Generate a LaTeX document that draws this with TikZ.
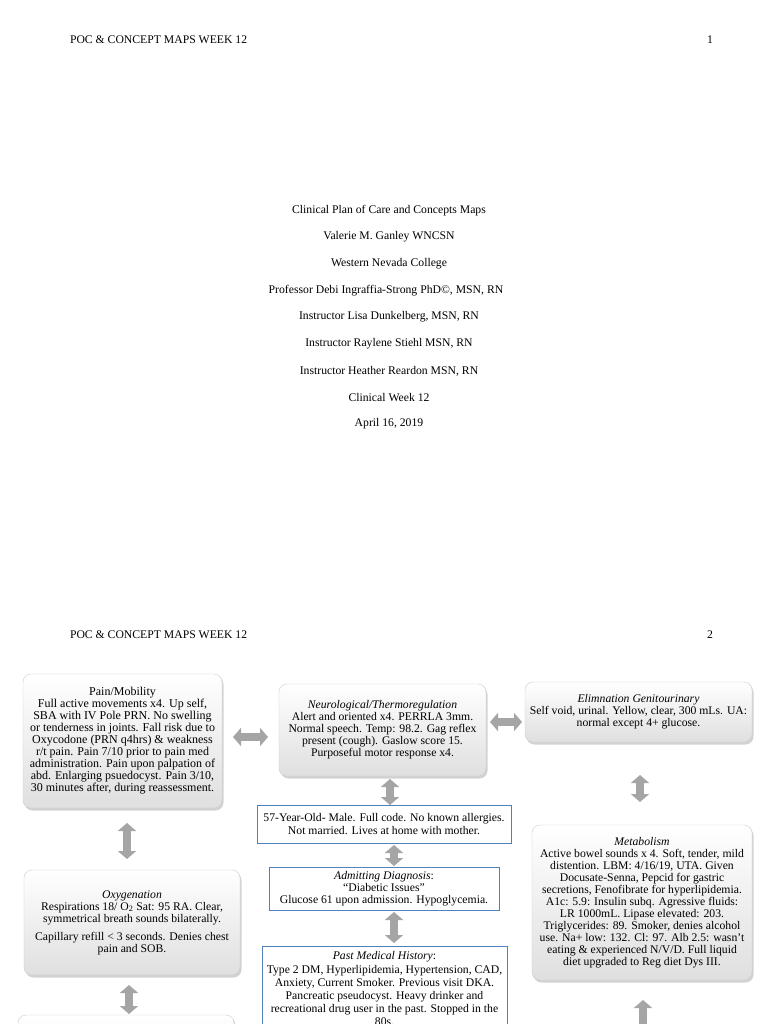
\documentclass[tikz,border=0pt]{standalone}
\usepackage{fontspec}
\setmainfont{Liberation Serif}
\usetikzlibrary{shadows,arrows.meta,calc}
\definecolor{boxblue}{RGB}{79,129,189}
\definecolor{arrowgray}{RGB}{165,165,165}
\begin{document}
\begin{tikzpicture}[x=1pt,y=-1pt,
  every node/.style={inner sep=0pt, outer sep=0pt},
  pagetext/.style={font=\fontsize{11.7}{14}\selectfont},
  softbox/.style={rectangle, rounded corners=8pt, draw=gray!40, line width=0.4pt,
    top color=white, bottom color=gray!25,
    drop shadow={shadow xshift=1.5pt, shadow yshift=-2.5pt, opacity=0.5, fill=gray!70},
    align=center, font=\fontsize{11.7}{12}\selectfont},
  bluebox/.style={rectangle, draw=boxblue, line width=0.8pt, fill=white, align=center,
    font=\fontsize{11.7}{12}\selectfont},
  garrow/.style={draw=arrowgray, color=arrowgray, line width=8pt,
    {Triangle[width=18pt,length=8pt]}-{Triangle[width=18pt,length=8pt]}}
]
\useasboundingbox (0,0) rectangle (768,1024);
\clip (0,0) rectangle (768,1024);
\fill[white] (0,0) rectangle (768,1024);

% ---------- page 1 ----------
\node[pagetext, anchor=west] (h1) at (70,40) {POC \& CONCEPT MAPS WEEK 12};
\node[pagetext] (n1) at (710,40) {1};
\node[pagetext] (t1) at (389,211) {Clinical Plan of Care and Concepts Maps};
\node[pagetext] (t2) at (389,237) {Valerie M. Ganley WNCSN};
\node[pagetext] (t3) at (389,264) {Western Nevada College};
\node[pagetext] (t4) at (386,291) {Professor Debi Ingraffia-Strong PhD©, MSN, RN};
\node[pagetext] (t5) at (389,317) {Instructor Lisa Dunkelberg, MSN, RN};
\node[pagetext] (t6) at (389,344) {Instructor Raylene Stiehl MSN, RN};
\node[pagetext] (t7) at (389,371) {Instructor Heather Reardon MSN, RN};
\node[pagetext] (t8) at (389,398) {Clinical Week 12};
\node[pagetext] (t9) at (389,424) {April 16, 2019};

% ---------- page 2 ----------
\node[pagetext, anchor=west] (h2) at (70,635) {POC \& CONCEPT MAPS WEEK 12};
\node[pagetext] (n2) at (710,635) {2};

\node[softbox, minimum width=199pt, minimum height=134pt,
  font=\fontsize{12}{12}\selectfont] (pain) at (122.5,741)
 {Pain/Mobility\\
 Full active movements x4. Up self,\\
 SBA with IV Pole PRN. No swelling\\
 or tenderness in joints. Fall risk due to\\
 Oxycodone (PRN q4hrs) \& weakness\\
 r/t pain. Pain 7/10 prior to pain med\\
 administration. Pain upon palpation of\\
 abd. Enlarging psuedocyst. Pain 3/10,\\
 30 minutes after, during reassessment.};

\node[softbox, minimum width=207pt, minimum height=92pt] (neuro) at (382.5,730)
 {\textit{Neurological/Thermoregulation}\\
 Alert and oriented x4. PERRLA 3mm.\\
 Normal speech. Temp: 98.2. Gag reflex\\
 present (cough). Gaslow score 15.\\
 Purposeful motor response x4.};

\node[softbox, minimum width=227pt, minimum height=60pt] (elim) at (638.5,712)
 {\textit{Elimnation Genitourinary}\\
 Self void, urinal. Yellow, clear, 300 mLs. UA:\\
 normal except 4+ glucose.};

\node[bluebox, minimum width=254pt, minimum height=38pt,
  font=\fontsize{11.7}{13}\selectfont] (pt) at (384,824)
 {57-Year-Old- Male. Full code. No known allergies.\\
 Not married. Lives at home with mother.};

\node[bluebox, minimum width=230pt, minimum height=43pt] (adm) at (384,888.5)
 {\textit{Admitting Diagnosis}:\\
 “Diabetic Issues”\\
 Glucose 61 upon admission. Hypoglycemia.};

\node[bluebox, minimum width=245pt, minimum height=86pt,
  font=\fontsize{11.7}{13.2}\selectfont] (pmh) at (384.5,989)
 {\textit{Past Medical History}:\\
 Type 2 DM, Hyperlipidemia, Hypertension, CAD,\\
 Anxiety, Current Smoker. Previous visit DKA.\\
 Pancreatic pseudocyst. Heavy drinker and\\
 recreational drug user in the past. Stopped in the\\
 80s.};

\node[softbox, minimum width=220pt, minimum height=155pt] (meta) at (642,902.5)
 {\textit{Metabolism}\\
 Active bowel sounds x 4. Soft, tender, mild\\
 distention. LBM: 4/16/19, UTA. Given\\
 Docusate-Senna, Pepcid for gastric\\
 secretions, Fenofibrate for hyperlipidemia.\\
 A1c: 5.9: Insulin subq. Agressive fluids:\\
 LR 1000mL. Lipase elevated: 203.\\
 Triglycerides: 89. Smoker, denies alcohol\\
 use. Na+ low: 132. Cl: 97. Alb 2.5: wasn't\\
 eating \& experienced N/V/D. Full liquid\\
 diet upgraded to Reg diet Dys III.};

\node[softbox, minimum width=216pt, minimum height=105pt] (oxy) at (132,922.5)
 {\textit{Oxygenation}\\
 Respirations 18/ O\textsubscript{2} Sat: 95 RA. Clear,\\
 symmetrical breath sounds bilaterally.\\[6pt]
 Capillary refill < 3 seconds. Denies chest\\
 pain and SOB.};

\node[softbox, minimum width=216pt, minimum height=100pt] (bl) at (126,1065) {};
\coordinate (br) at (643,1045);

% ---------- arrows ----------
\coordinate (ya1) at (0,737);
\coordinate (ya2) at (0,722);
\coordinate (xa3) at (640,0);
\coordinate (xa4) at (390,0);
\coordinate (xa5) at (394,0);
\coordinate (xa7) at (127,0);
\coordinate (xa8) at (129,0);
\coordinate (xa9) at (643,0);
\draw[garrow, shorten <=11pt, shorten >=11pt] (pain.east |- ya1) -- (neuro.west |- ya1);
\draw[garrow, shorten <=4pt, shorten >=3pt] (neuro.east |- ya2) -- (elim.west |- ya2);
\draw[garrow, shorten <=33pt, shorten >=23pt] (xa3 |- elim.south) -- (xa3 |- meta.north);
\draw[garrow, shorten <=3pt, shorten >=0pt] (xa4 |- neuro.south) -- (xa4 |- pt.north);
\draw[garrow, shorten <=2pt, shorten >=1pt] (xa5 |- pt.south) -- (xa5 |- adm.north);
\draw[garrow, shorten <=2pt, shorten >=3pt] (xa5 |- adm.south) -- (xa5 |- pmh.north);
\draw[garrow, shorten <=15pt, shorten >=11pt] (xa7 |- pain.south) -- (xa7 |- oxy.north);
\draw[garrow, shorten <=10pt, shorten >=1pt] (xa8 |- oxy.south) -- (xa8 |- bl.north);
\draw[garrow, shorten <=20pt] (xa9 |- meta.south) -- (br);
\end{tikzpicture}
\end{document}
